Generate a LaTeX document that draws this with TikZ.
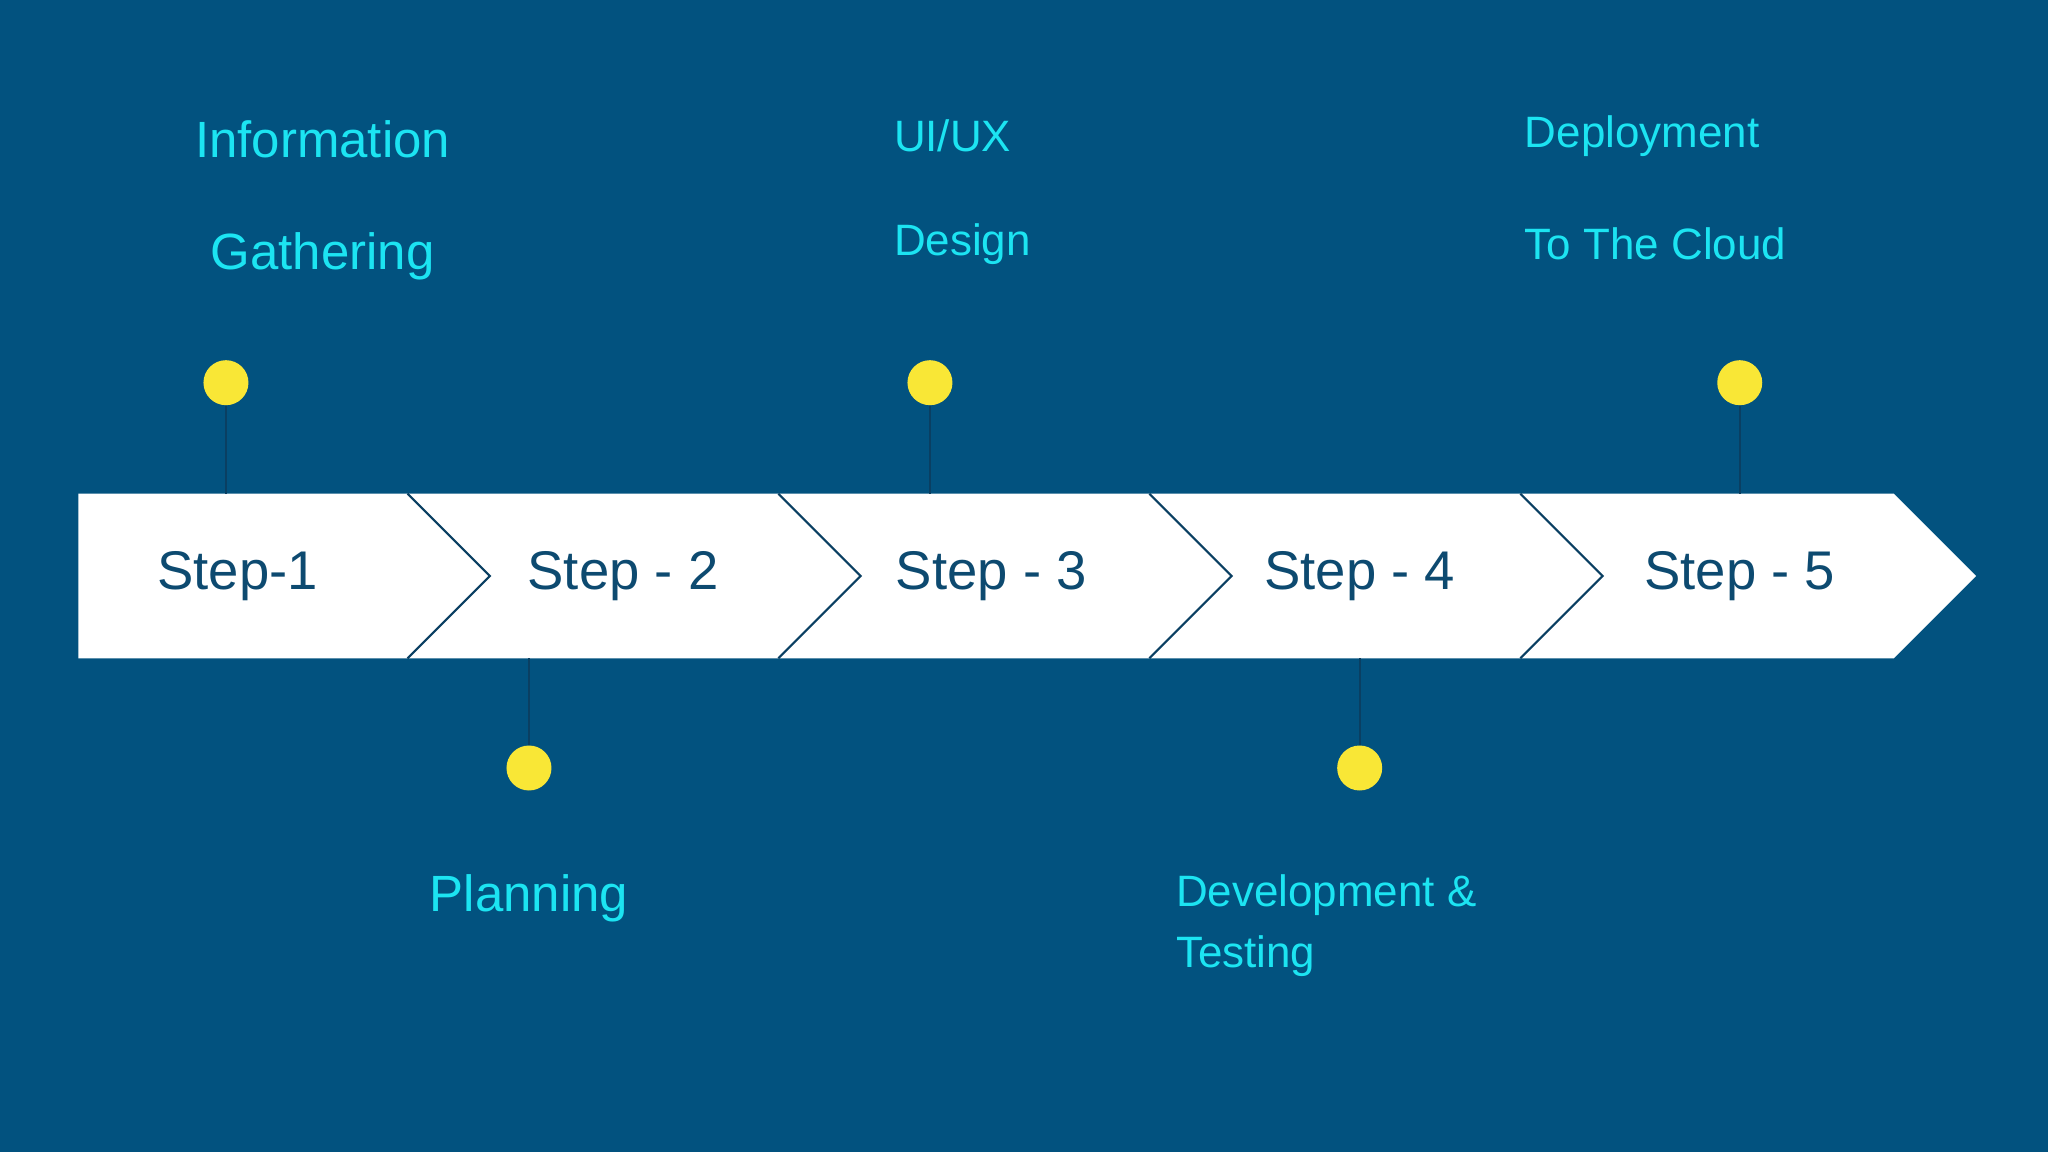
\documentclass[tikz,border=0pt]{standalone}
\usepackage{fontspec}
\setmainfont{Liberation Sans}
\usetikzlibrary{positioning,calc}
\definecolor{bgblue}{HTML}{02527F}
\definecolor{darkline}{HTML}{0A3F62}
\definecolor{steptext}{HTML}{0D4A70}
\definecolor{cyantext}{HTML}{1CE4F2}
\definecolor{dotyellow}{HTML}{F9E736}

\tikzset{
  steplabel/.style={text=steptext, font=\fontsize{15.5}{18}\selectfont},
  phase/.style={text=cyantext, font=\fontsize{14.5}{17}\selectfont},
  phasesmall/.style={text=cyantext, font=\fontsize{12.5}{15}\selectfont, anchor=west},
  pin/.style={circle, fill=dotyellow, inner sep=0pt, minimum size=0.45cm},
  stem/.style={darkline, line width=0.6pt}
}

\begin{document}
\begin{tikzpicture}[x=0.013061cm, y=-0.013061cm]
  % background
  \fill[bgblue] (0,0) rectangle (1568,882);
  \useasboundingbox (0,0) rectangle (1568,882);

  % arrow strip
  \fill[white] (60,378) -- (1450,378) -- (1513,441) -- (1450,504) -- (60,504) -- cycle;
  \foreach \x in {312,596,880,1164} {
    \draw[stem] (\x,378) -- (\x+63,441) -- (\x,504);
  }

  % step labels
  \foreach \x/\t [count=\i] in {182/Step-1, 477/Step - 2, 759/Step - 3, 1041/Step - 4, 1332/Step - 5} {
    \node[steplabel] (s\i) at (\x,441) {\t};
  }

  % pins
  \node[pin] (p1) at (173,293) {};
  \node[pin] (p2) at (405,588) {};
  \node[pin] (p3) at (712,293) {};
  \node[pin] (p4) at (1041,588) {};
  \node[pin] (p5) at (1332,293) {};
  \coordinate (c1) at (173,378);
  \coordinate (c2) at (405,504);
  \coordinate (c3) at (712,378);
  \coordinate (c4) at (1041,504);
  \coordinate (c5) at (1332,378);
  \foreach \i in {1,...,5} {
    \draw[stem] (p\i) -- (c\i);
  }

  % phase texts
  \node[phase] (t1a) at (247,107) {Information};
  \node[phase] (t1b) at (247,196) {Gathering};
  \node[phase] (t2) at (405,688) {Planning};
  \node[phasesmall] (t3a) at (675,104) {UI/UX};
  \node[phasesmall] (t3b) at (675,187) {Design};
  \node[phasesmall] (t4a) at (891,685) {Development \&};
  \node[phasesmall] (t4b) at (891,732) {Testing};
  \node[phasesmall] (t5a) at (1158,104) {Deployment};
  \node[phasesmall] (t5b) at (1158,187) {To The Cloud};
\end{tikzpicture}
\end{document}
